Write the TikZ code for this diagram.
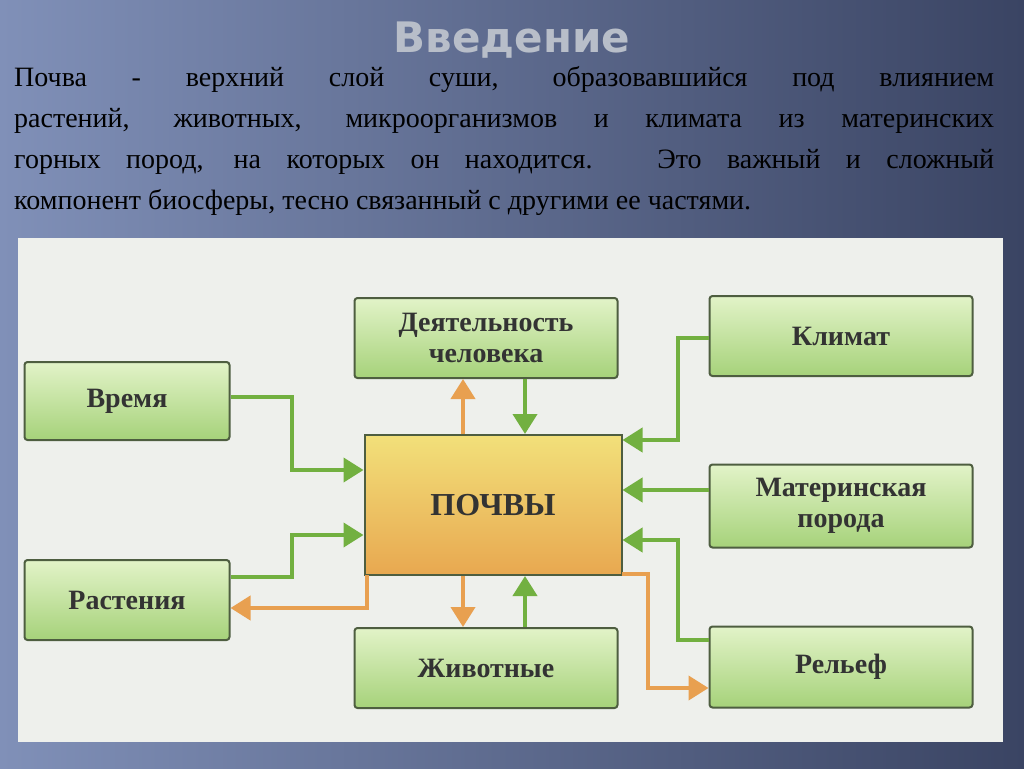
\documentclass[tikz,border=0pt]{standalone}
\usepackage{fontspec}
\setmainfont{Liberation Serif}
\newfontfamily\titlef{DejaVu Sans}
\usetikzlibrary{arrows.meta}
\definecolor{bgL}{HTML}{8090B8}
\definecolor{bgR}{HTML}{3A4463}
\definecolor{panel}{HTML}{EEF0EC}
\definecolor{gtop}{HTML}{E2F3C8}
\definecolor{gbot}{HTML}{A6D27A}
\definecolor{bord}{HTML}{4E5E40}
\definecolor{gline}{HTML}{72B040}
\definecolor{oline}{HTML}{E8A050}
\definecolor{otop}{HTML}{F2E07A}
\definecolor{obot}{HTML}{E8A850}
\definecolor{titc}{HTML}{B8BEC9}
\tikzset{
 gbox/.style={draw=bord,line width=2pt,rounded corners=3pt,top color=gtop,bottom color=gbot,font=\fontsize{28}{31}\selectfont\bfseries,text=black!80,align=center,inner sep=0pt},
 gl/.style={draw=gline,line width=4pt,-{Triangle[width=24pt,length=20pt]}},
 ol/.style={draw=oline,line width=4pt,-{Triangle[width=24pt,length=20pt]}},
}
\begin{document}
\begin{tikzpicture}[x=1pt,y=-1pt]
\useasboundingbox (0,0) rectangle (1024,768);
\shade[left color=bgL,right color=bgR] (0,0) rectangle (1024,768);
\node[font=\titlef\bfseries\fontsize{42}{44}\selectfont,text=titc] (title) at (512,40) {Введение};
\node[anchor=north west,text width=980pt,align=justify,font=\fontsize{28}{41}\selectfont,inner sep=0pt] (para) at (14,66)
{Почва - верхний слой суши, образовавшийся под влиянием\linebreak растений, животных, микроорганизмов и климата из материнских\linebreak горных пород, на которых он находится. Это важный и сложный\linebreak компонент биосферы, тесно связанный с другими ее частями.};
\fill[panel] (18,238) rectangle (1003,742);
\node[gbox,minimum width=205pt,minimum height=78pt] (vr) at (127,401) {Время};
\node[gbox,minimum width=263pt,minimum height=80pt] (dh) at (486,338) {Деятельность\\человека};
\node[gbox,minimum width=263pt,minimum height=80pt] (kl) at (841,336) {Климат};
\node[draw=bord,line width=2pt,top color=otop,bottom color=obot,minimum width=257pt,minimum height=140pt,font=\fontsize{32}{34}\selectfont\bfseries,text=black!80] (pv) at (493,505) {ПОЧВЫ};
\node[gbox,minimum width=263pt,minimum height=83pt] (mp) at (841,506) {Материнская\\порода};
\node[gbox,minimum width=205pt,minimum height=80pt] (ra) at (127,600) {Растения};
\node[gbox,minimum width=263pt,minimum height=80pt] (zh) at (486,668) {Животные};
\node[gbox,minimum width=263pt,minimum height=81pt] (re) at (841,667) {Рельеф};
\coordinate (a) at (292,397);
\draw[gl] (vr.east |- a) -- (a) -- (292,470) -- (pv.west |- 0,470);
\draw[gl] (ra.east |- 0,577) -- (292,577) -- (292,535) -- (pv.west |- 0,535);
\draw[ol] (367,575) -- (367,608) -- (ra.east |- 0,608);
\draw[ol] (pv.north -| 463,0) -- (dh.south -| 463,0);
\draw[gl] (dh.south -| 525,0) -- (pv.north -| 525,0);
\draw[ol] (pv.south -| 463,0) -- (zh.north -| 463,0);
\draw[gl] (zh.north -| 525,0) -- (pv.south -| 525,0);
\draw[gl] (kl.west |- 0,338) -- (678,338) -- (678,440) -- (pv.east |- 0,440);
\draw[gl] (mp.west |- 0,490) -- (pv.east |- 0,490);
\draw[gl] (re.west |- 0,640) -- (678,640) -- (678,540) -- (pv.east |- 0,540);
\draw[ol] (622,574) -- (648,574) -- (648,688) -- (re.west |- 0,688);
\end{tikzpicture}
\end{document}
